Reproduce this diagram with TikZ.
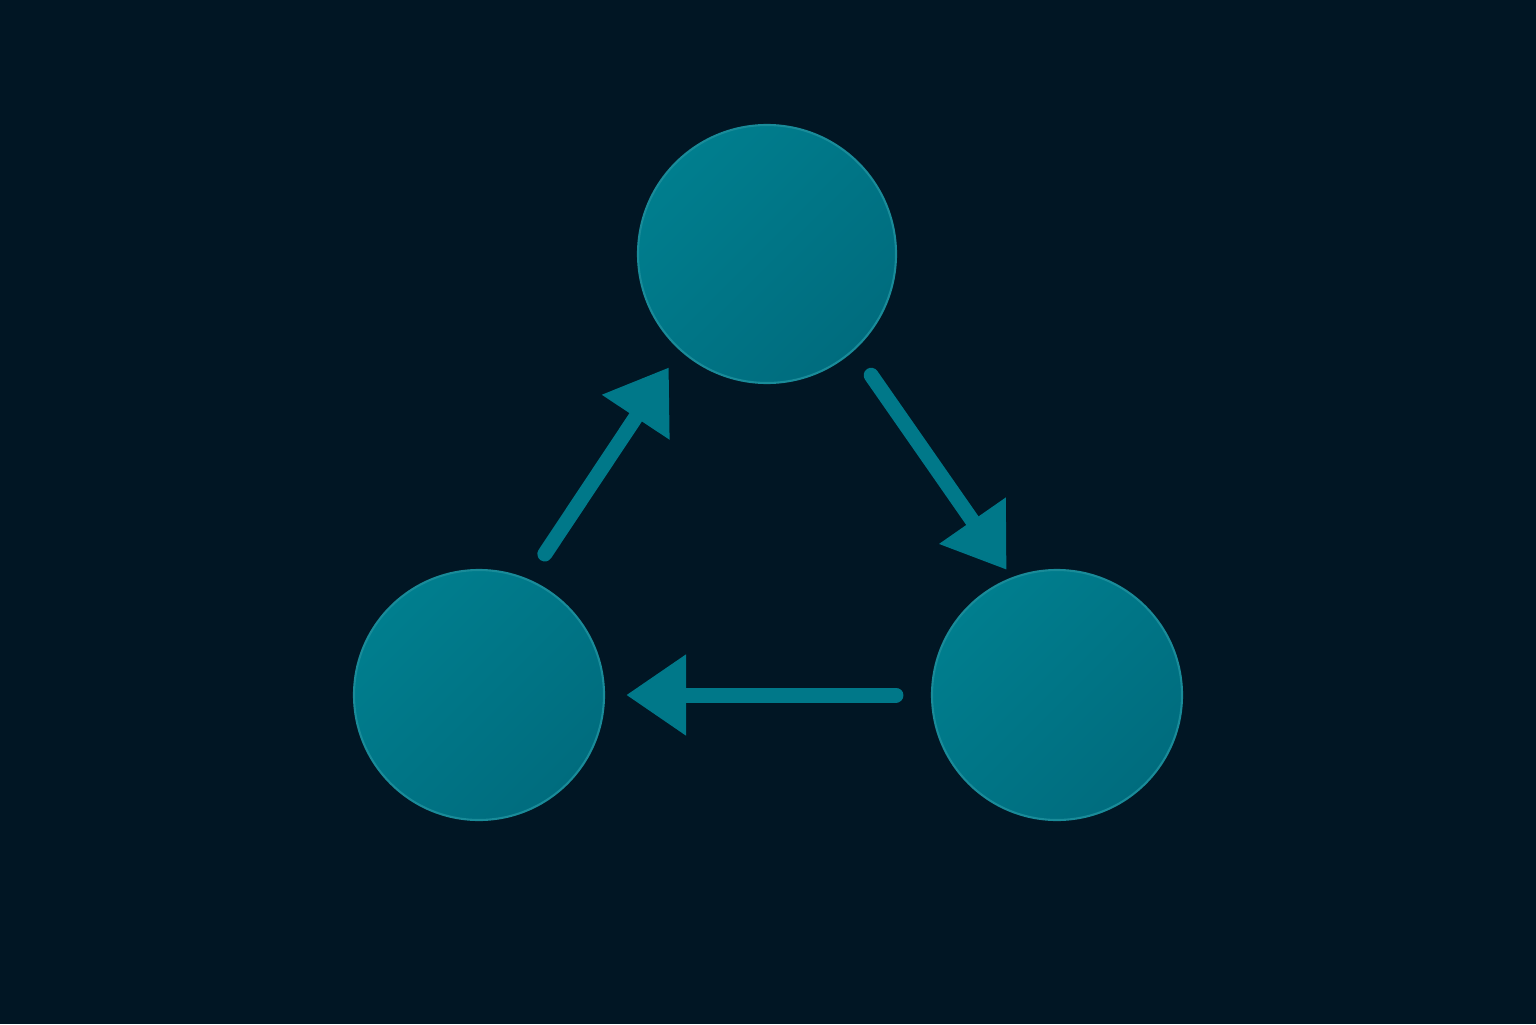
\documentclass[tikz,border=0pt]{standalone}
\usetikzlibrary{arrows.meta}

\definecolor{navy}{HTML}{011624}
\definecolor{tealA}{HTML}{007E8E}
\definecolor{tealB}{HTML}{006C7E}
\definecolor{tealArrow}{HTML}{007889}

\tikzset{
  cyc/.style={circle, draw=tealA!90!white, line width=0.6pt, inner sep=0pt,
    top color=tealA, bottom color=tealB, shading angle=45},
  flow/.style={tealArrow, line width=0.15cm, line cap=round,
    -{Triangle[length=0.6cm, width=0.77cm]}}
}

\begin{document}
\begin{tikzpicture}
    % Background
    \fill[navy] (0,0) rectangle (15.36,10.24);
    \useasboundingbox (0,0) rectangle (15.36,10.24);

    % Circles
    \node[cyc, minimum size=2.58cm] (topc) at (7.67, 7.70) {};
    \node[cyc, minimum size=2.50cm] (leftc) at (4.79, 3.29) {};
    \node[cyc, minimum size=2.50cm] (rightc) at (10.57, 3.29) {};

    % Cycle arrows
    \draw[flow, shorten <=0.3cm, shorten >=0.2cm] (leftc.67) -- (topc.228);
    \draw[flow, shorten <=0.3cm, shorten >=0.09cm] (topc.312) -- (rightc.111);
    \draw[flow, shorten <=0.35cm, shorten >=0.21cm] (rightc.180) -- (leftc.0);
\end{tikzpicture}
\end{document}
